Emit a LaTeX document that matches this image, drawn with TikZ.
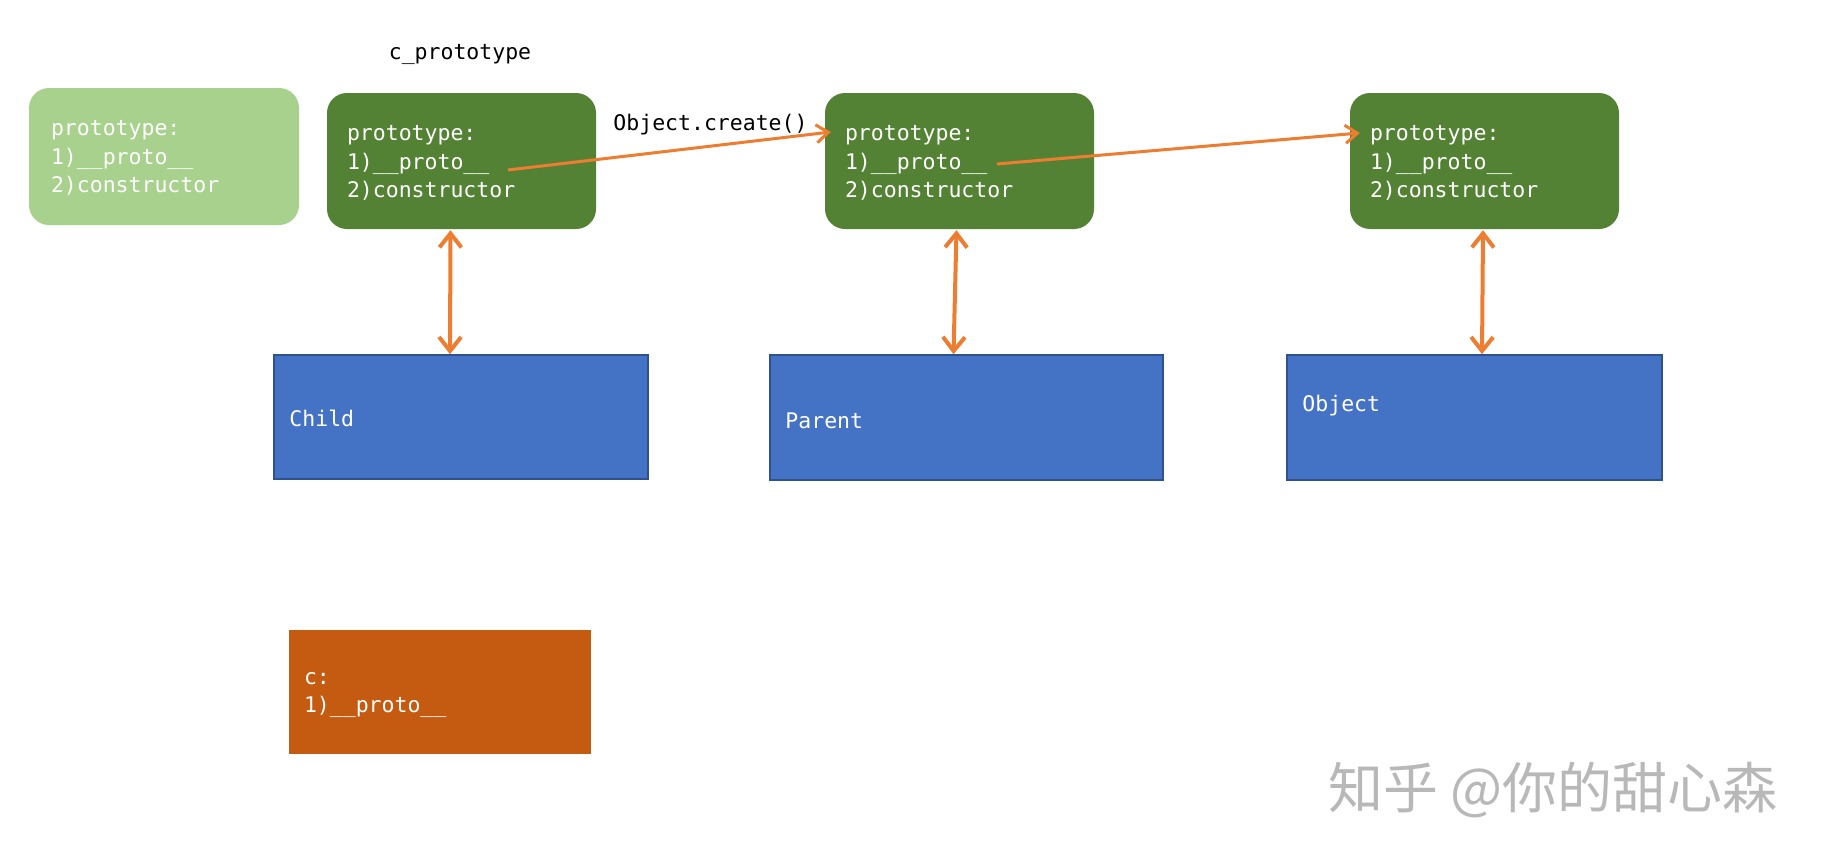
\documentclass[tikz,border=0pt]{standalone}
\usepackage{fontspec}
\setmonofont{DejaVu Sans Mono}
\newfontfamily\cjk{Noto Sans CJK SC}
\usetikzlibrary{arrows.meta}
\definecolor{lgreen}{HTML}{A9D18E}
\definecolor{dgreen}{HTML}{548235}
\definecolor{bblue}{HTML}{4472C4}
\definecolor{bblueline}{HTML}{2F528F}
\definecolor{rorange}{HTML}{C55A11}
\definecolor{aorange}{HTML}{ED7D31}
\definecolor{wmgray}{HTML}{B8B8B8}
\tikzset{
  protobox/.style={fill=#1, draw=none, rounded corners=20pt, minimum width=269pt, minimum height=136pt, inner sep=0pt},
  classbox/.style={fill=bblue, draw=bblueline, line width=1.5pt, inner sep=0pt},
  instbox/.style={fill=rorange, draw=none, inner sep=0pt},
  boxtext/.style={font=\ttfamily\fontsize{21.5}{28.8}\selectfont, text=white, align=left, inner sep=0pt, anchor=west},
  plaintext/.style={font=\ttfamily\fontsize{21.5}{28.8}\selectfont, text=black, inner sep=0pt},
  linkarrow/.style={draw=aorange, line width=4pt, {Straight Barb[length=14pt,width=22pt]}-{Straight Barb[length=14pt,width=22pt]}},
  chainarrow/.style={draw=aorange, line width=3pt, -{Straight Barb[length=12pt,width=18pt]}}
}
\begin{document}
\begin{tikzpicture}[x=1pt,y=-1pt]
\useasboundingbox[fill=white] (0,0) rectangle (1822,862);
% prototype boxes
\node[protobox=lgreen, minimum width=270pt, minimum height=137pt] (lg) at (164,156.5) {};
\node[protobox=dgreen] (g1) at (461.5,161) {};
\node[protobox=dgreen] (g2) at (959.5,161) {};
\node[protobox=dgreen] (g3) at (1484.5,161) {};
\node[boxtext] (lgt) at ([xshift=22pt,yshift=-1.5pt]lg.west) {prototype:\\1)\_\_proto\_\_\\2)constructor};
\node[boxtext] (g1t) at ([xshift=20pt,yshift=-2pt]g1.west) {prototype:\\1)\_\_proto\_\_\\2)constructor};
\node[boxtext] (g2t) at ([xshift=20pt,yshift=-2pt]g2.west) {prototype:\\1)\_\_proto\_\_\\2)constructor};
\node[boxtext] (g3t) at ([xshift=20pt,yshift=-2pt]g3.west) {prototype:\\1)\_\_proto\_\_\\2)constructor};
% constructor boxes
\node[classbox, minimum width=374pt, minimum height=124pt] (child) at (461,417) {};
\node[classbox, minimum width=393pt, minimum height=125pt] (parent) at (966.5,417.5) {};
\node[classbox, minimum width=375pt, minimum height=125pt] (object) at (1474.5,417.5) {};
\node[boxtext] (childt) at ([xshift=16pt,yshift=-1pt]child.west) {Child};
\node[boxtext] (parentt) at ([xshift=16pt,yshift=-3pt]parent.west) {Parent};
\node[boxtext] (objectt) at ([xshift=16pt,yshift=11.5pt]object.west) {Object};
% instance
\node[instbox, minimum width=302pt, minimum height=124pt] (inst) at (440,692) {};
\node[boxtext] (instt) at ([xshift=15pt,yshift=-3pt]inst.west) {c:\\1)\_\_proto\_\_};
% labels
\node[plaintext] (lblproto) at (460,54.5) {c\_prototype};
\node[plaintext] (lblcreate) at (710.5,124.5) {Object.create()};
% arrows
\draw[linkarrow] ([xshift=-11pt,yshift=-1pt]g1.south) -- ([xshift=-11pt]child.north);
\draw[linkarrow] ([xshift=-3pt,yshift=-1pt]g2.south) -- ([xshift=-13pt]parent.north);
\draw[linkarrow] ([xshift=-1.5pt,yshift=-1pt]g3.south) -- ([xshift=7.5pt]object.north);
\coordinate (c1s) at ([xshift=46.5pt,yshift=-9pt]g1.center);
\coordinate (c1e) at ([xshift=6pt,yshift=29pt]g2.west);
\coordinate (c2s) at ([xshift=37.5pt,yshift=-3pt]g2.center);
\coordinate (c2e) at ([xshift=10pt,yshift=28pt]g3.west);
\draw[chainarrow] (c1s) -- (c1e);
\draw[chainarrow] (c2s) -- (c2e);
% watermark
\node[font=\cjk\fontsize{55}{62}\selectfont, text=wmgray, inner sep=0pt] (wm) at (1553,790) {知乎 @你的甜心森};
\end{tikzpicture}
\end{document}
